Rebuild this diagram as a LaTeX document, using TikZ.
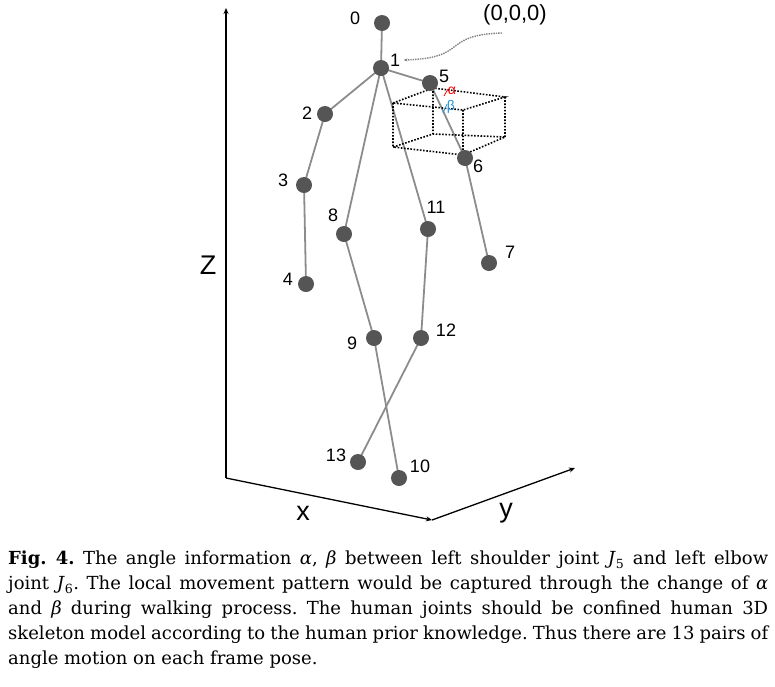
\documentclass[tikz,border=0pt]{standalone}
\usepackage{fontspec}
\setmainfont{DejaVu Serif}
\setsansfont{Liberation Sans}
\usetikzlibrary{arrows.meta}
\definecolor{jt}{RGB}{85,85,85}
\definecolor{bn}{RGB}{140,140,140}
\definecolor{bb}{RGB}{40,150,220}
\newcommand{\gi}[1]{\textit{#1}}
\begin{document}
\begin{tikzpicture}[x=1pt,y=-1pt,
  joint/.style={circle,fill=jt,minimum size=16pt,inner sep=0pt},
  bone/.style={draw=bn,line width=1.8pt},
  lbl/.style={font=\sffamily\fontsize{18}{18}\selectfont},
  big/.style={font=\sffamily\fontsize{27}{27}\selectfont},
  box/.style={dash pattern=on 1.6pt off 1.6pt,line width=1.6pt},
  axis/.style={line width=1.3pt,-{Stealth[length=6pt,width=5pt]}}]
\useasboundingbox (0,0) rectangle (775,686);
% axes
\coordinate (O) at (226,478);
\coordinate (Zt) at (226,8);
\coordinate (Xe) at (432,520);
\coordinate (Ye) at (575,468);
\draw[axis] (O) -- (Zt);
\draw[axis] (O) -- (Xe);
\draw[axis] (Xe) -- (Ye);
\node[big] (zl) at (208,265) {Z};
\node[big] (xl) at (303,513) {x};
\node[big] (yl) at (506,513) {y};
% joints
\foreach \n/\x/\y in {0/382/23,1/381/68,2/325/114,3/304/185,4/306/284,5/430/83,6/465/158,7/489/263,8/344/234,9/374/338,10/399/478,11/428/229,12/421/338,13/358/462}
  \coordinate (p\n) at (\x,\y);
\foreach \a/\b in {0/1,1/2,2/3,3/4,1/5,5/6,6/7,1/8,8/9,9/10,1/11,11/12,12/13}
  \draw[bone] (p\a) -- (p\b);
% box
\coordinate (a1) at (393,103); \coordinate (a2) at (433,88);
\coordinate (a3) at (505,97); \coordinate (a4) at (463,110);
\coordinate (b1) at (393,147); \coordinate (b2) at (433,134);
\coordinate (b3) at (505,137); \coordinate (b4) at (463,155);
\draw[box] (a1)--(a2)--(a3)--(a4)--cycle (b1)--(b2)--(b3)--(b4)--cycle
  (a1)--(b1) (a2)--(b2) (a3)--(b3) (a4)--(b4);
\foreach \n in {0,...,13} \node[joint] (j\n) at (p\n) {};
\draw[red,line width=0.8pt] (444,96) -- (448,89);
\draw[bb,line width=0.8pt] (443,113) -- (447,104);
\node[text=red,font=\sffamily\fontsize{14}{14}\selectfont,inner sep=0pt] (al) at (452,91) {α};
\node[text=bb,font=\sffamily\fontsize{14}{14}\selectfont,inner sep=0pt] (be) at (451,107) {β};
% labels
\foreach \n/\x/\y in {0/355/18,1/395/60,2/307/113,3/283/180,4/288/279,5/444/76,6/478/166,7/510/252,8/333/215,9/352/343,10/420/466,11/436/207,12/446/330,13/336/455}
  \node[lbl] (l\n) at (\x,\y) {\n};
\node[font=\sffamily\fontsize{22}{22}\selectfont] (orig) at (515,15) {(0,0,0)};
\coordinate (ar) at (502,33);
\draw[densely dotted,line width=1.4pt,gray,-{Stealth[length=4pt]}] (ar) .. controls (440,35) and (470,58) .. (l1.east);
% caption
\node[anchor=north west,text width=760pt,align=justify,inner sep=0pt,font=\fontsize{18}{25}\selectfont] (cap) at (8,551)
{\frenchspacing\textbf{Fig. 4.} The angle information \gi{α}, \gi{β} between left shoulder joint \gi{J}\textsubscript{5} and left elbow\linebreak
joint \gi{J}\textsubscript{6}. The local movement pattern would be captured through the change of \gi{α}\linebreak
and \gi{β} during walking process. The human joints should be confined human 3D\linebreak
skeleton model according to the human prior knowledge. Thus there are 13 pairs of\linebreak
angle motion on each frame pose.};
\end{tikzpicture}
\end{document}
